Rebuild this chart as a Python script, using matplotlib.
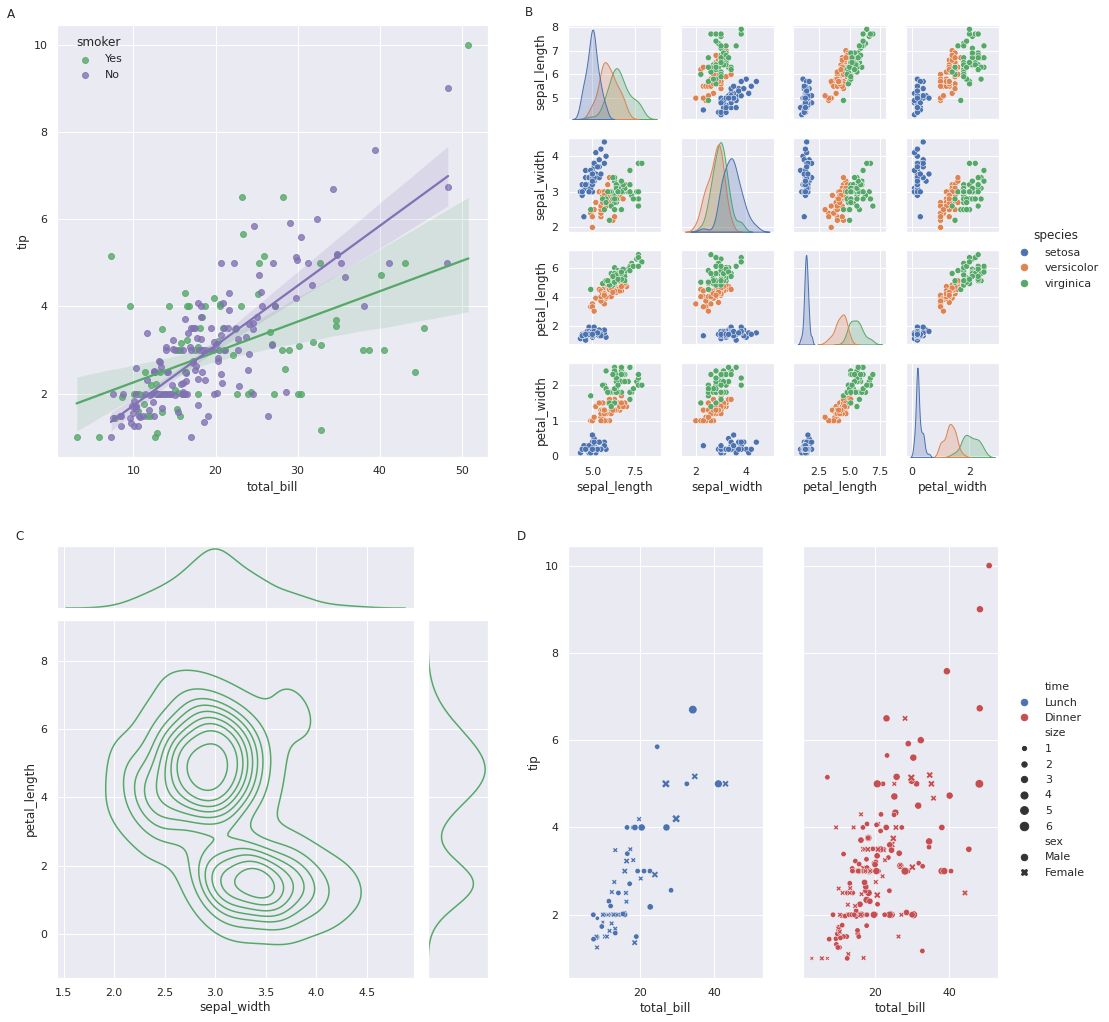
import matplotlib
matplotlib.use("Agg")
import matplotlib.pyplot as plt
from matplotlib.lines import Line2D
import numpy as np
import pandas as pd
import seaborn as sns


# ---- tips data (244 rows) ----
total_bill = [
    16.99, 10.34, 21.01, 23.68, 24.59, 25.29, 8.77, 26.88, 15.04, 14.78,
    10.27, 35.26, 15.42, 18.43, 14.83, 21.58, 10.33, 16.29, 16.97, 20.65,
    17.92, 20.29, 15.77, 39.42, 19.82, 17.81, 13.37, 12.69, 21.70, 19.65,
    9.55, 18.35, 15.06, 20.69, 17.78, 24.06, 16.31, 16.93, 18.69, 31.27,
    16.04, 17.46, 13.94, 9.68, 30.40, 18.29, 22.23, 32.40, 28.55, 18.04,
    12.54, 10.29, 34.81, 9.94, 25.56, 19.49, 38.01, 26.41, 11.24, 48.27,
    20.29, 13.81, 11.02, 18.29, 17.59, 20.08, 16.45, 3.07, 20.23, 15.01,
    12.02, 17.07, 26.86, 25.28, 14.73, 10.51, 17.92, 27.20, 22.76, 17.29,
    19.44, 16.66, 10.07, 32.68, 15.98, 34.83, 13.03, 18.28, 24.71, 21.16,
    28.97, 22.49, 5.75, 16.32, 22.75, 40.17, 27.28, 12.03, 21.01, 12.46,
    11.35, 15.38, 44.30, 22.42, 20.92, 15.36, 20.49, 25.21, 18.24, 14.31,
    14.00, 7.25, 38.07, 23.95, 25.71, 17.31, 29.93, 10.65, 12.43, 24.08,
    11.69, 13.42, 14.26, 15.95, 12.48, 29.80, 8.52, 14.52, 11.38, 22.82,
    19.08, 20.27, 11.17, 12.26, 18.26, 8.51, 10.33, 14.15, 16.00, 13.16,
    17.47, 34.30, 41.19, 27.05, 16.43, 8.35, 18.64, 11.87, 9.78, 7.51,
    14.07, 13.13, 17.26, 24.55, 19.77, 29.85, 48.17, 25.00, 13.39, 16.49,
    21.50, 12.66, 16.21, 13.81, 17.51, 24.52, 20.76, 31.71, 10.59, 10.63,
    50.81, 15.81, 7.25, 31.85, 16.82, 32.90, 17.89, 14.48, 9.60, 34.63,
    34.65, 23.33, 45.35, 23.17, 40.55, 20.69, 20.90, 30.46, 18.15, 23.10,
    15.69, 19.81, 28.44, 15.48, 16.58, 7.56, 10.34, 43.11, 13.00, 13.51,
    18.71, 12.74, 13.00, 16.40, 20.53, 16.47, 26.59, 38.73, 24.27, 12.76,
    30.06, 25.89, 48.33, 13.27, 28.17, 12.90, 28.15, 11.59, 7.74, 30.14,
    12.16, 13.42, 8.58, 15.98, 13.42, 16.27, 10.09, 20.45, 13.28, 22.12,
    24.01, 15.69, 11.61, 10.77, 15.53, 10.07, 12.60, 32.83, 35.83, 29.03,
    27.18, 22.67, 17.82, 18.78,
]
tip = [
    1.01, 1.66, 3.50, 3.31, 3.61, 4.71, 2.00, 3.12, 1.96, 3.23,
    1.71, 5.00, 1.57, 3.00, 3.02, 3.92, 1.67, 3.71, 3.50, 3.35,
    4.08, 2.75, 2.23, 7.58, 3.18, 2.34, 2.00, 2.00, 4.30, 3.00,
    1.45, 2.50, 3.00, 2.45, 3.27, 3.60, 2.00, 3.07, 2.31, 5.00,
    2.24, 2.54, 3.06, 1.32, 5.60, 3.00, 5.00, 6.00, 2.05, 3.00,
    2.50, 2.60, 5.20, 1.56, 4.34, 3.51, 3.00, 1.50, 1.76, 6.73,
    3.21, 2.00, 1.98, 3.76, 2.64, 3.15, 2.47, 1.00, 2.01, 2.09,
    1.97, 3.00, 3.14, 5.00, 2.20, 1.25, 3.08, 4.00, 3.00, 2.71,
    3.00, 3.40, 1.83, 5.00, 2.03, 5.17, 2.00, 4.00, 5.85, 3.00,
    3.00, 3.50, 1.00, 4.30, 3.25, 4.73, 4.00, 1.50, 3.00, 1.50,
    2.50, 3.00, 2.50, 3.48, 4.08, 1.64, 4.06, 4.29, 3.76, 4.00,
    3.00, 1.00, 4.00, 2.55, 4.00, 3.50, 5.07, 1.50, 1.80, 2.92,
    2.31, 1.68, 2.50, 2.00, 2.52, 4.20, 1.48, 2.00, 2.00, 2.18,
    1.50, 2.83, 1.50, 2.00, 3.25, 1.25, 2.00, 2.00, 2.00, 2.75,
    3.50, 6.70, 5.00, 5.00, 2.30, 1.50, 1.36, 1.63, 1.73, 2.00,
    2.50, 2.00, 2.74, 2.00, 2.00, 5.14, 5.00, 3.75, 2.61, 2.00,
    3.50, 2.50, 2.00, 2.00, 3.00, 3.48, 2.24, 4.50, 1.61, 2.00,
    10.00, 3.16, 5.15, 3.18, 4.00, 3.11, 2.00, 2.00, 4.00, 3.55,
    3.68, 5.65, 3.50, 6.50, 3.00, 5.00, 3.50, 2.00, 3.50, 4.00,
    1.50, 4.19, 2.56, 2.02, 4.00, 1.44, 2.00, 5.00, 2.00, 2.00,
    4.00, 2.01, 2.00, 2.50, 4.00, 3.23, 3.41, 3.00, 2.03, 2.23,
    2.00, 5.16, 9.00, 2.50, 6.50, 1.10, 3.00, 1.50, 1.44, 3.09,
    2.20, 3.48, 1.92, 3.00, 1.58, 2.50, 2.00, 3.00, 2.72, 2.88,
    2.00, 3.00, 3.39, 1.47, 3.00, 1.25, 1.00, 1.17, 4.67, 5.92,
    2.00, 2.00, 1.75, 3.00,
]
party_size = [
    2, 3, 3, 2, 4, 4, 2, 4, 2, 2,
    2, 4, 2, 4, 2, 2, 3, 3, 3, 3,
    2, 2, 2, 4, 2, 4, 2, 2, 2, 2,
    2, 4, 2, 4, 2, 3, 3, 3, 3, 3,
    3, 2, 2, 2, 4, 2, 2, 4, 3, 2,
    2, 2, 4, 2, 4, 2, 4, 2, 2, 4,
    2, 2, 2, 4, 3, 3, 2, 1, 2, 2,
    2, 3, 2, 2, 2, 2, 2, 4, 2, 2,
    2, 2, 1, 2, 2, 4, 2, 2, 2, 2,
    2, 2, 2, 2, 2, 4, 2, 2, 2, 2,
    2, 2, 3, 2, 2, 2, 2, 2, 2, 2,
    2, 1, 3, 2, 3, 2, 4, 2, 2, 4,
    2, 2, 2, 2, 2, 6, 2, 2, 2, 3,
    2, 2, 2, 2, 2, 2, 2, 2, 2, 2,
    2, 6, 5, 6, 2, 2, 3, 2, 2, 2,
    2, 2, 3, 4, 4, 5, 6, 4, 2, 4,
    4, 2, 3, 2, 2, 3, 2, 4, 2, 2,
    3, 2, 2, 2, 2, 2, 2, 2, 2, 2,
    4, 2, 3, 4, 2, 5, 3, 5, 3, 3,
    2, 2, 2, 2, 2, 2, 2, 4, 2, 2,
    3, 2, 2, 2, 4, 3, 3, 4, 2, 2,
    3, 4, 4, 2, 3, 2, 5, 2, 2, 4,
    2, 2, 1, 3, 2, 2, 2, 4, 2, 2,
    4, 3, 2, 2, 2, 2, 2, 2, 3, 3,
    2, 2, 2, 2,
]
# one letter per row: M/F, Y/N, L/D
sex_codes = (
    "FMMMFMMMMM" "MFMMFMFMFM" "MFFMMMMMMF" "MMFFMMMFMM" "MMMMMMMMMM"
    "MFFMMMMFMM" "MMMMMMFFMM" "MFFFFMMMMM" "MMFMMFMMMM" "MMFFFMMMMM"
    "FFFFFMMMMF" "MFMMFFMFFF" "MFMMFFMFFM" "MFFFFFFFMF" "FMMFFFFFMM"
    "MMMMMFMFFM" "MMFMFMMMFF" "MMMMMMMMFM" "MMMMMMFMFM" "MFMMMMMFFM"
    "MFFFMFMMMF" "MMMFFFMMMF" "MFMFMFFMMF" "MMMMMMMMFM" "FMMF"
)
smoker_codes = (
    "NNNNNNNNNN" "NNNNNNNNNN" "NNNNNNNNNN" "NNNNNNNNNN" "NNNNNNNNNN"
    "NNNNNNYNYN" "YYYYNNNYNY" "NNYYNNYNNN" "YNNYNNNNNN" "YNYYNYYYYN"
    "YYYYNYYYNY" "NNNNNNNNNN" "NNNNNNNNNN" "NNNNNNNNYN" "NNNNNNNNNN"
    "NNNNNNNNNN" "NNNNYNNNYY" "YYYYYYYYYY" "YYYYYNYYYY" "YYYYYNYYYY"
    "YYYYYYYYYY" "YYNYYYYYYY" "YYYNYYYNNY" "YYNNYNYYNN" "YYNN"
)
time_codes = (
    "DDDDDDDDDD" "DDDDDDDDDD" "DDDDDDDDDD" "DDDDDDDDDD" "DDDDDDDDDD"
    "DDDDDDDDDD" "DDDDDDDDDD" "DDDDDDDLLL" "LLLLLLLLLL" "DDDDDDDDDD"
    "DDDDDDDDDD" "DDDDDDDLLL" "LLLLLLLLLL" "LLLLLLLLLL" "LLLLLLLLLL"
    "DDDDDDDDDD" "DDDDDDDDDD" "DDDDDDDDDD" "DDDDDDDDDD" "DLLLLLLLLL"
    "LLLLLLDDDD" "DDDDDDDDDD" "LLLLLLLDDD" "DDDDDDDDDD" "DDDD"
)

# ---- iris data (150 rows: setosa, versicolor, virginica) ----
sepal_length = [
    5.1, 4.9, 4.7, 4.6, 5.0, 5.4, 4.6, 5.0, 4.4, 4.9, 5.4, 4.8, 4.8, 4.3, 5.8, 5.7, 5.4, 5.1, 5.7, 5.1,
    5.4, 5.1, 4.6, 5.1, 4.8, 5.0, 5.0, 5.2, 5.2, 4.7, 4.8, 5.4, 5.2, 5.5, 4.9, 5.0, 5.5, 4.9, 4.4, 5.1,
    5.0, 4.5, 4.4, 5.0, 5.1, 4.8, 5.1, 4.6, 5.3, 5.0,
    7.0, 6.4, 6.9, 5.5, 6.5, 5.7, 6.3, 4.9, 6.6, 5.2, 5.0, 5.9, 6.0, 6.1, 5.6, 6.7, 5.6, 5.8, 6.2, 5.6,
    5.9, 6.1, 6.3, 6.1, 6.4, 6.6, 6.8, 6.7, 6.0, 5.7, 5.5, 5.5, 5.8, 6.0, 5.4, 6.0, 6.7, 6.3, 5.6, 5.5,
    5.5, 6.1, 5.8, 5.0, 5.6, 5.7, 5.7, 6.2, 5.1, 5.7,
    6.3, 5.8, 7.1, 6.3, 6.5, 7.6, 4.9, 7.3, 6.7, 7.2, 6.5, 6.4, 6.8, 5.7, 5.8, 6.4, 6.5, 7.7, 7.7, 6.0,
    6.9, 5.6, 7.7, 6.3, 6.7, 7.2, 6.2, 6.1, 6.4, 7.2, 7.4, 7.9, 6.4, 6.3, 6.1, 7.7, 6.3, 6.4, 6.0, 6.9,
    6.7, 6.9, 5.8, 6.8, 6.7, 6.7, 6.3, 6.5, 6.2, 5.9,
]
sepal_width = [
    3.5, 3.0, 3.2, 3.1, 3.6, 3.9, 3.4, 3.4, 2.9, 3.1, 3.7, 3.4, 3.0, 3.0, 4.0, 4.4, 3.9, 3.5, 3.8, 3.8,
    3.4, 3.7, 3.6, 3.3, 3.4, 3.0, 3.4, 3.5, 3.4, 3.2, 3.1, 3.4, 4.1, 4.2, 3.1, 3.2, 3.5, 3.6, 3.0, 3.4,
    3.5, 2.3, 3.2, 3.5, 3.8, 3.0, 3.8, 3.2, 3.7, 3.3,
    3.2, 3.2, 3.1, 2.3, 2.8, 2.8, 3.3, 2.4, 2.9, 2.7, 2.0, 3.0, 2.2, 2.9, 2.9, 3.1, 3.0, 2.7, 2.2, 2.5,
    3.2, 2.8, 2.5, 2.8, 2.9, 3.0, 2.8, 3.0, 2.9, 2.6, 2.4, 2.4, 2.7, 2.7, 3.0, 3.4, 3.1, 2.3, 3.0, 2.5,
    2.6, 3.0, 2.6, 2.3, 2.7, 3.0, 2.9, 2.9, 2.5, 2.8,
    3.3, 2.7, 3.0, 2.9, 3.0, 3.0, 2.5, 2.9, 2.5, 3.6, 3.2, 2.7, 3.0, 2.5, 2.8, 3.2, 3.0, 3.8, 2.6, 2.2,
    3.2, 2.8, 2.8, 2.7, 3.3, 3.2, 2.8, 3.0, 2.8, 3.0, 2.8, 3.8, 2.8, 2.8, 2.6, 3.0, 3.4, 3.1, 3.0, 3.1,
    3.1, 3.1, 2.7, 3.2, 3.3, 3.0, 2.5, 3.0, 3.4, 3.0,
]
petal_length = [
    1.4, 1.4, 1.3, 1.5, 1.4, 1.7, 1.4, 1.5, 1.4, 1.5, 1.5, 1.6, 1.4, 1.1, 1.2, 1.5, 1.3, 1.4, 1.7, 1.5,
    1.7, 1.5, 1.0, 1.7, 1.9, 1.6, 1.6, 1.5, 1.4, 1.6, 1.6, 1.5, 1.5, 1.4, 1.5, 1.2, 1.3, 1.4, 1.3, 1.5,
    1.3, 1.3, 1.3, 1.6, 1.9, 1.4, 1.6, 1.4, 1.5, 1.4,
    4.7, 4.5, 4.9, 4.0, 4.6, 4.5, 4.7, 3.3, 4.6, 3.9, 3.5, 4.2, 4.0, 4.7, 3.6, 4.4, 4.5, 4.1, 4.5, 3.9,
    4.8, 4.0, 4.9, 4.7, 4.3, 4.4, 4.8, 5.0, 4.5, 3.5, 3.8, 3.7, 3.9, 5.1, 4.5, 4.5, 4.7, 4.4, 4.1, 4.0,
    4.4, 4.6, 4.0, 3.3, 4.2, 4.2, 4.2, 4.3, 3.0, 4.1,
    6.0, 5.1, 5.9, 5.6, 5.8, 6.6, 4.5, 6.3, 5.8, 6.1, 5.1, 5.3, 5.5, 5.0, 5.1, 5.3, 5.5, 6.7, 6.9, 5.0,
    5.7, 4.9, 6.7, 4.9, 5.7, 6.0, 4.8, 4.9, 5.6, 5.8, 6.1, 6.4, 5.6, 5.1, 5.6, 6.1, 5.6, 5.5, 4.8, 5.4,
    5.6, 5.1, 5.1, 5.9, 5.7, 5.2, 5.0, 5.2, 5.4, 5.1,
]
petal_width = [
    0.2, 0.2, 0.2, 0.2, 0.2, 0.4, 0.3, 0.2, 0.2, 0.1, 0.2, 0.2, 0.1, 0.1, 0.2, 0.4, 0.4, 0.3, 0.3, 0.3,
    0.2, 0.4, 0.2, 0.5, 0.2, 0.2, 0.4, 0.2, 0.2, 0.2, 0.2, 0.4, 0.1, 0.2, 0.2, 0.2, 0.2, 0.1, 0.2, 0.2,
    0.3, 0.3, 0.2, 0.6, 0.4, 0.3, 0.2, 0.2, 0.2, 0.2,
    1.4, 1.5, 1.5, 1.3, 1.5, 1.3, 1.6, 1.0, 1.3, 1.4, 1.0, 1.5, 1.0, 1.4, 1.3, 1.4, 1.5, 1.0, 1.5, 1.1,
    1.8, 1.3, 1.5, 1.2, 1.3, 1.4, 1.4, 1.7, 1.5, 1.0, 1.1, 1.0, 1.2, 1.6, 1.5, 1.6, 1.5, 1.3, 1.3, 1.3,
    1.2, 1.4, 1.2, 1.0, 1.3, 1.2, 1.3, 1.3, 1.1, 1.3,
    2.5, 1.9, 2.1, 1.8, 2.2, 2.1, 1.7, 1.8, 1.8, 2.5, 2.0, 1.9, 2.1, 2.0, 2.4, 2.3, 1.8, 2.2, 2.3, 1.5,
    2.3, 2.0, 2.0, 1.8, 2.1, 1.8, 1.8, 1.8, 2.1, 1.6, 1.9, 2.0, 2.2, 1.5, 1.4, 2.3, 2.4, 1.8, 1.8, 2.1,
    2.4, 2.3, 1.9, 2.3, 2.5, 2.3, 1.9, 2.0, 2.3, 1.8,
]
species_names = ["setosa", "versicolor", "virginica"]
species = ["setosa"] * 50 + ["versicolor"] * 50 + ["virginica"] * 50

iris_vars = ["sepal_length", "sepal_width", "petal_length", "petal_width"]

# colours
species_pal = {"setosa": "#4C72B0", "versicolor": "#DD8452", "virginica": "#55A868"}
smoker_pal = {"Yes": "#55A868", "No": "#8172B3"}
time_pal = {"Lunch": "#4C72B0", "Dinner": "#C44E52"}
kde_color = "#55A868"

tips = pd.DataFrame({
    "total_bill": total_bill,
    "tip": tip,
    "sex": [{"M": "Male", "F": "Female"}[c] for c in sex_codes],
    "smoker": [{"Y": "Yes", "N": "No"}[c] for c in smoker_codes],
    "time": [{"L": "Lunch", "D": "Dinner"}[c] for c in time_codes],
    "size": party_size,
})
iris = pd.DataFrame({
    "sepal_length": sepal_length,
    "sepal_width": sepal_width,
    "petal_length": petal_length,
    "petal_width": petal_width,
    "species": species,
})

sns.set_theme()

W, H = 1109, 1022
fig = plt.figure(figsize=(W / 72, H / 72), dpi=72)


def place(x0, y0, x1, y1, **kw):
    # pixel box -> figure axes
    return fig.add_axes([x0 / W, 1 - y1 / H, (x1 - x0) / W, (y1 - y0) / H], **kw)


# ---------------- A: regression by smoker ----------------
ax_a = place(57, 25, 488, 457)
for level in ["Yes", "No"]:
    sub = tips[tips.smoker == level]
    sns.regplot(data=sub, x="total_bill", y="tip", ax=ax_a,
                color=smoker_pal[level], label=level, seed=0)
ax_a.legend(title="smoker", loc="upper left", frameon=False,
            bbox_to_anchor=(7 / 431, 1 - 1 / 432))

# ---------------- B: pair grid ----------------
grid = np.empty((4, 4), dtype=object)
for i in range(4):
    for j in range(4):
        x0 = 568 + j * 112.7
        y0 = 25 + i * 112.7
        sx = grid[0, j] if i > 0 else None
        sy = grid[i, 0] if j > 0 else None
        grid[i, j] = place(x0, y0, x0 + 93, y0 + 94, sharex=sx, sharey=sy)

for i in range(4):
    for j in range(4):
        ax = grid[i, j]
        if i == j:
            twin = ax.twinx()
            sns.kdeplot(data=iris, x=iris_vars[j], hue="species", hue_order=species_names,
                        palette=species_pal, fill=True, legend=False, ax=twin,
                        warn_singular=False)
            twin.set_axis_off()
            ax.tick_params(axis="y", left=False, right=False)
        else:
            sns.scatterplot(data=iris, x=iris_vars[j], y=iris_vars[i], hue="species",
                            hue_order=species_names, palette=species_pal,
                            legend=False, ax=ax)
        ax.set_xlabel(iris_vars[j] if i == 3 else "")
        ax.set_ylabel(iris_vars[i] if j == 0 else "")
        if i < 3:
            ax.tick_params(labelbottom=False)
        if j > 0:
            ax.tick_params(labelleft=False)

sp_handles = [Line2D([], [], ls="", marker="o", markersize=6.5, color=species_pal[s])
              for s in species_names]
fig.legend(sp_handles, species_names, title="species", loc="center left",
           bbox_to_anchor=(1003 / W, 1 - 259 / H), frameon=False, handletextpad=0.9)

# ---------------- C: joint kde ----------------
ax_joint = place(57, 620, 414, 978)
ax_top = place(57, 546, 414, 608, sharex=ax_joint)
ax_side = place(428, 620, 488, 978, sharey=ax_joint)
sns.kdeplot(data=iris, x="sepal_width", y="petal_length", color=kde_color, ax=ax_joint)
sns.kdeplot(data=iris, x="sepal_width", color=kde_color, ax=ax_top)
sns.kdeplot(data=iris, y="petal_length", color=kde_color, ax=ax_side)
ax_top.set_xlabel("")
ax_top.set_ylabel("")
ax_side.set_xlabel("")
ax_side.set_ylabel("")
ax_top.tick_params(labelbottom=False, labelleft=False)
ax_side.tick_params(labelbottom=False, labelleft=False)
ax_top.yaxis.grid(False)
ax_side.xaxis.grid(False)

# ---------------- D: scatter by time ----------------
ax_l = place(568, 546, 763, 978)
ax_r = place(803, 546, 998, 978, sharex=ax_l, sharey=ax_l)
for ax, t in zip([ax_l, ax_r], ["Lunch", "Dinner"]):
    sub = tips[tips.time == t]
    sns.scatterplot(data=sub, x="total_bill", y="tip", hue="time",
                    hue_order=["Lunch", "Dinner"], palette=time_pal,
                    size="size", sizes=(18, 72), size_norm=(1, 6),
                    style="sex", style_order=["Male", "Female"],
                    markers={"Male": "o", "Female": "X"},
                    legend=False, ax=ax)
ax_r.set_ylabel("")
ax_r.tick_params(labelleft=False)

blank = Line2D([], [], ls="", marker="")
d_handles = [blank]
d_labels = ["time"]
for t in ["Lunch", "Dinner"]:
    d_handles.append(Line2D([], [], ls="", marker="o", markersize=6.5, color=time_pal[t]))
    d_labels.append(t)
d_handles.append(blank)
d_labels.append("size")
for k in range(1, 7):
    s = 18 + (k - 1) / 5 * (72 - 18)
    d_handles.append(Line2D([], [], ls="", marker="o", markersize=np.sqrt(s), color=".2"))
    d_labels.append(str(k))
d_handles.append(blank)
d_labels.append("sex")
for lab, m in [("Male", "o"), ("Female", "X")]:
    d_handles.append(Line2D([], [], ls="", marker=m, markersize=6.5, color=".2"))
    d_labels.append(lab)
fig.legend(d_handles, d_labels, loc="center left",
           bbox_to_anchor=(1003 / W, 1 - 780 / H), frameon=False, handletextpad=0.9)

# panel letters
for letter, x, y in [("A", 7, 14), ("B", 525, 12), ("C", 15, 536), ("D", 517, 536)]:
    fig.text(x / W, 1 - y / H, letter, fontsize=12, va="center", ha="left")

fig.savefig("out.png", dpi=72)
